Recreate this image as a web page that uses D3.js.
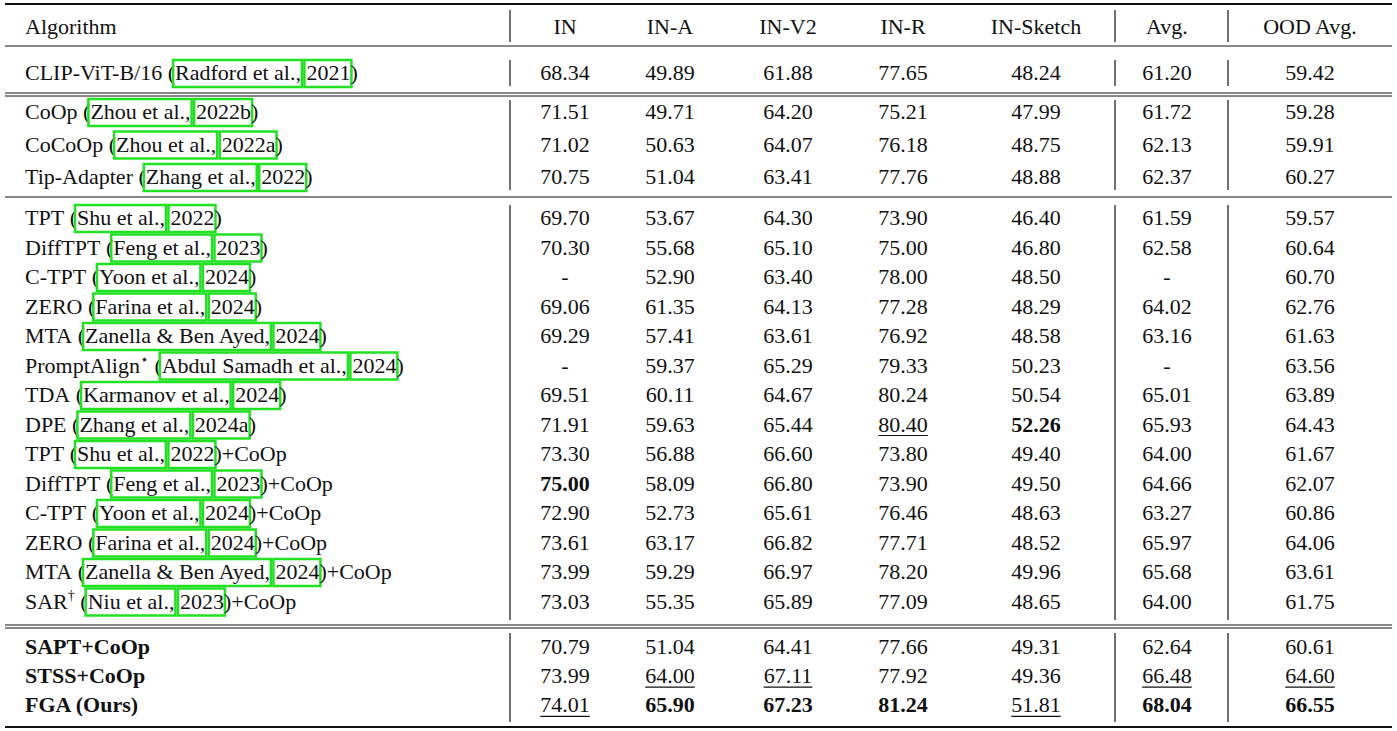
<!DOCTYPE html>
<html><head><meta charset="utf-8">
<script src="https://cdn.jsdelivr.net/npm/d3@7"></script>
<style>body{margin:0;background:#fff}svg text{font-family:'Liberation Serif','Times New Roman','Nimbus Roman',Times,serif;font-size:22px;fill:#111;white-space:pre}</style>
</head><body><svg id="t" width="1397" height="731" font-family="Liberation Serif, serif"></svg>
<script>
var headers = ["Algorithm","IN","IN-A","IN-V2","IN-R","IN-Sketch","Avg.","OOD Avg."];
// method: [name, sup, author, year, suffix]
var methods = [
 ["CLIP-ViT-B/16","","Radford et al.","2021",""],
 ["CoOp","","Zhou et al.","2022b",""],
 ["CoCoOp","","Zhou et al.","2022a",""],
 ["Tip-Adapter","","Zhang et al.","2022",""],
 ["TPT","","Shu et al.","2022",""],
 ["DiffTPT","","Feng et al.","2023",""],
 ["C-TPT","","Yoon et al.","2024",""],
 ["ZERO","","Farina et al.","2024",""],
 ["MTA","","Zanella & Ben Ayed","2024",""],
 ["PromptAlign","⋆","Abdul Samadh et al.","2024",""],
 ["TDA","","Karmanov et al.","2024",""],
 ["DPE","","Zhang et al.","2024a",""],
 ["TPT","","Shu et al.","2022","+CoOp"],
 ["DiffTPT","","Feng et al.","2023","+CoOp"],
 ["C-TPT","","Yoon et al.","2024","+CoOp"],
 ["ZERO","","Farina et al.","2024","+CoOp"],
 ["MTA","","Zanella & Ben Ayed","2024","+CoOp"],
 ["SAR","†","Niu et al.","2023","+CoOp"],
 ["SAPT+CoOp","","","",""],
 ["STSS+CoOp","","","",""],
 ["FGA (Ours)","","","",""]
];
var groups = [0,1,1,1,2,2,2,2,2,2,2,2,2,2,2,2,2,2,3,3,3];
var values = [
 ["68.34","49.89","61.88","77.65","48.24","61.20","59.42"],
 ["71.51","49.71","64.20","75.21","47.99","61.72","59.28"],
 ["71.02","50.63","64.07","76.18","48.75","62.13","59.91"],
 ["70.75","51.04","63.41","77.76","48.88","62.37","60.27"],
 ["69.70","53.67","64.30","73.90","46.40","61.59","59.57"],
 ["70.30","55.68","65.10","75.00","46.80","62.58","60.64"],
 ["-","52.90","63.40","78.00","48.50","-","60.70"],
 ["69.06","61.35","64.13","77.28","48.29","64.02","62.76"],
 ["69.29","57.41","63.61","76.92","48.58","63.16","61.63"],
 ["-","59.37","65.29","79.33","50.23","-","63.56"],
 ["69.51","60.11","64.67","80.24","50.54","65.01","63.89"],
 ["71.91","59.63","65.44","80.40","52.26","65.93","64.43"],
 ["73.30","56.88","66.60","73.80","49.40","64.00","61.67"],
 ["75.00","58.09","66.80","73.90","49.50","64.66","62.07"],
 ["72.90","52.73","65.61","76.46","48.63","63.27","60.86"],
 ["73.61","63.17","66.82","77.71","48.52","65.97","64.06"],
 ["73.99","59.29","66.97","78.20","49.96","65.68","63.61"],
 ["73.03","55.35","65.89","77.09","48.65","64.00","61.75"],
 ["70.79","51.04","64.41","77.66","49.31","62.64","60.61"],
 ["73.99","64.00","67.11","77.92","49.36","66.48","64.60"],
 ["74.01","65.90","67.23","81.24","51.81","68.04","66.55"]
];
// b = bold, u = underline
var styles = {"13,0":"b","11,4":"b","11,3":"u","20,0":"u","20,1":"b","20,2":"b","20,3":"b","20,4":"u","20,5":"b","20,6":"b",
 "19,1":"u","19,2":"u","19,5":"u","19,6":"u"};
var boldRows = [18,19,20];

var svg = d3.select("#t");
var colX = d3.scaleOrdinal().domain(d3.range(7)).range([565,670,788,903,1036,1167,1310]);
var groupStart = [73,112,218,647], groupStep = [0,32.5,29.5,29.2];
var firstOf = [0,1,4,18];
function rowY(i){var g=groups[i];return groupStart[g]+groupStep[g]*(i-firstOf[g]);}

function rule(y,w){svg.append("line").attr("x1",5).attr("x2",1392).attr("y1",y).attr("y2",y).attr("stroke","#111").attr("stroke-width",w);}
rule(4,2);rule(46,1.2);rule(93,1.2);rule(96,1.2);rule(197,1.2);rule(625,1.2);rule(628,1.2);rule(727,2);

[510,1115,1228].forEach(function(x){
  [[10,42],[60,86],[100,190],[205,620],[633,722]].forEach(function(s){
    svg.append("line").attr("x1",x).attr("x2",x).attr("y1",s[0]).attr("y2",s[1]).attr("stroke","#111").attr("stroke-width",1.2);
  });
});

var hy=27;
svg.append("text").attr("x",25).attr("y",hy+7).text(headers[0]);
headers.slice(1).forEach(function(h,j){svg.append("text").attr("x",colX(j)).attr("y",hy+7).attr("text-anchor","middle").text(h);});

methods.forEach(function(m,i){
  var y=rowY(i)+7, x=25, bold=boldRows.indexOf(i)>=0;
  function piece(s,box,sup){
    if(!s) return;
    var t=svg.append("text").attr("x",x).attr("y",sup?y-9:y).attr("xml:space","preserve").text(s);
    if(bold) t.attr("font-weight","bold");
    if(sup) t.style("font-size","14px");
    var w=t.node().getComputedTextLength();
    if(box) svg.append("rect").attr("x",x-2).attr("y",y-20).attr("width",w+3).attr("height",27)
      .attr("fill","none").attr("stroke","#22e022").attr("stroke-width",2.5);
    x+=w;
  }
  piece(m[0]);piece(m[1],false,true);
  if(m[2]){piece(" (");piece(m[2]+",",true);piece(" ");piece(m[3],true);piece(")");}
  piece(m[4]);
  values[i].forEach(function(v,j){
    var st=styles[i+","+j];
    var t=svg.append("text").attr("x",colX(j)).attr("y",y).attr("text-anchor","middle").text(v);
    if(st==="b") t.attr("font-weight","bold");
    if(st==="u"){var w=t.node().getComputedTextLength();
      svg.append("line").attr("x1",colX(j)-w/2).attr("x2",colX(j)+w/2).attr("y1",y+4).attr("y2",y+4).attr("stroke","#111").attr("stroke-width",1.2);}
  });
});
</script></body></html>
